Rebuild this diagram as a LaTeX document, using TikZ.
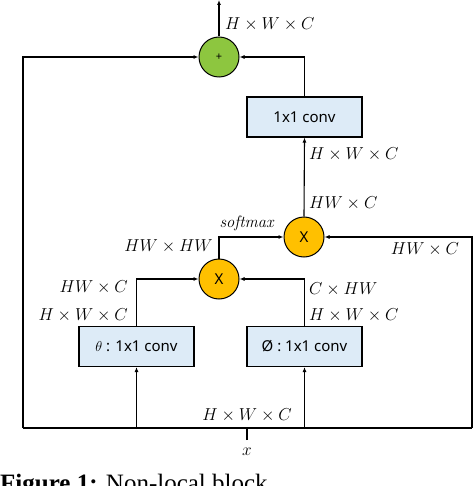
\documentclass[tikz,border=0pt]{standalone}
\usepackage{fontspec}
\usepackage{amsmath}
\usetikzlibrary{arrows.meta, positioning, calc}
\newfontfamily\boxfont{Noto Sans}
\newfontfamily\capfont{Liberation Serif}
\definecolor{convblue}{RGB}{221,235,247}
\definecolor{addgreen}{RGB}{141,198,63}
\definecolor{mulorange}{RGB}{255,192,0}

\begin{document}
\begin{tikzpicture}[
  x=1pt, y=-1pt,
  convbox/.style={draw, line width=1.1pt, fill=convblue, minimum width=115pt, minimum height=40pt, inner sep=0pt, font=\boxfont\fontsize{15}{17}\selectfont},
  addnode/.style={circle, draw, line width=1pt, fill=addgreen, minimum size=40pt, inner sep=0pt, font=\boxfont\fontsize{11}{12}\selectfont},
  mulnode/.style={circle, draw, line width=1pt, fill=mulorange, minimum size=40pt, inner sep=0pt, font=\boxfont\fontsize{15}{17}\selectfont},
  dimlabel/.style={inner sep=0pt, font=\fontsize{16.5}{18}\selectfont},
  arr/.style={-{Latex[length=5pt,width=4pt]}, line width=1.1pt},
  wire/.style={line width=1.1pt}
]
\useasboundingbox (0,0) rectangle (474,486);
\clip (0,0) rectangle (474,486);

% blocks
\node[addnode] (plus) at (219,57) {+};
\node[convbox] (convout) at (304.5,117) {1x1 conv};
\node[mulnode] (mulb) at (304,237) {X};
\node[mulnode] (mula) at (219,279) {X};
\node[convbox] (theta) at (136.5,346.5) {$\theta$ : 1x1 conv};
\node[convbox] (phi) at (304.5,346.5) {Ø : 1x1 conv};

\coordinate (out) at (219,0);
\coordinate (busl) at (23,428);
\coordinate (busr) at (472,428);
\coordinate (xtop) at (247,428);
\coordinate (xbot) at (247,440);

% connectors
\draw[arr] (plus) -- (out);
\draw[arr] (busl) |- (plus.west);
\draw[arr] (convout.north) |- (plus.east);
\draw[arr] (mulb.north) -- (convout.south);
\draw[arr] (busr) |- (mulb.east);
\draw[arr] (mula.north) |- (mulb.west);
\draw[arr] (theta.north) |- (mula.west);
\draw[arr] (phi.north) |- (mula.east);
\draw[arr] (busl -| theta.south) -- (theta.south);
\draw[arr] (busl -| phi.south) -- (phi.south);
\draw[wire] (busl) -- (busr);
\draw[wire] (xbot) -- (xtop);

% labels
\node[dimlabel, anchor=west] (lout) at (225,24) {$H \times W \times C$};
\node[dimlabel, anchor=west] (lconv) at (309,154) {$H \times W \times C$};
\node[dimlabel, anchor=west] (lmulb) at (309,203) {$HW \times C$};
\node[dimlabel] (lsoft) at (247,223) {\textit{softmax}};
\node[dimlabel, anchor=east] (lhw) at (213,246) {$HW \times HW$};
\node[dimlabel] (lright) at (425,249) {$HW \times C$};
\node[dimlabel, anchor=east] (lthq) at (128,287) {$HW \times C$};
\node[dimlabel, anchor=east] (lthc) at (128,315) {$H \times W \times C$};
\node[dimlabel, anchor=west] (lphq) at (309,289) {$C \times HW$};
\node[dimlabel, anchor=west] (lphc) at (309,315) {$H \times W \times C$};
\node[dimlabel] (lbus) at (247,415) {$H \times W \times C$};
\node[dimlabel] (lx) at (247,452) {$x$};

% caption, cut off by the frame
\node[anchor=north west, inner sep=0pt, font=\capfont\fontsize{25}{28}\selectfont] (cap) at (0,474) {\textbf{Figure 1:} Non-local block};
\end{tikzpicture}
\end{document}
